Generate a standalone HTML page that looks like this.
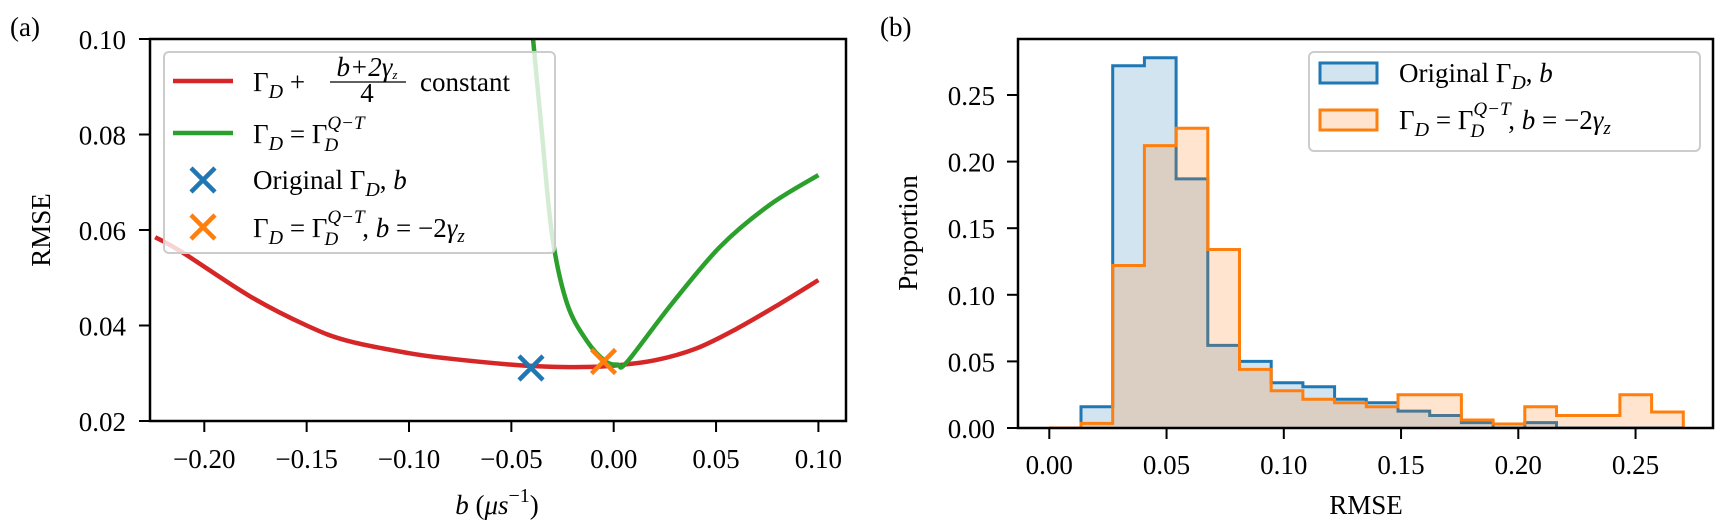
<!DOCTYPE html>
<html><head><meta charset="utf-8"><style>
html,body{margin:0;padding:0;background:#fff;}
svg{display:block;font-family:"Liberation Serif","DejaVu Serif",serif;}
.t{font-size:27px;fill:#000;}
.i{font-style:italic;}
</style></head><body>
<svg id="s" width="1725" height="530" viewBox="0 0 1725 530" xmlns="http://www.w3.org/2000/svg">
<defs><clipPath id="cl"><rect x="150" y="39" width="696" height="382"/></clipPath>
<clipPath id="cr"><rect x="1018" y="39" width="695" height="389"/></clipPath></defs>
<g id="left"></g>
<g id="right"></g>
<text class="t" x="10" y="36" font-size="28">(a)</text>
<text class="t" x="880" y="36" font-size="28">(b)</text>
<text class="t" transform="translate(50,230) rotate(-90)" text-anchor="middle" font-size="29">RMSE</text>
<text class="t" transform="translate(917,233) rotate(-90)" text-anchor="middle" font-size="29">Proportion</text>
<text class="t" x="497" y="514" text-anchor="middle" font-size="29"><tspan class="i">b</tspan> (<tspan class="i">μs</tspan><tspan font-size="20" dy="-12">−1</tspan><tspan dy="12">)</tspan></text>
<text class="t" x="1366" y="514" text-anchor="middle" font-size="29">RMSE</text>
</svg>
<script>
var NS="http://www.w3.org/2000/svg";
function el(p,tag,a,txt){var e=document.createElementNS(NS,tag);for(var k in a)e.setAttribute(k,a[k]);if(txt!=null)e.textContent=txt;p.appendChild(e);return e;}
var L=document.getElementById('left'),R=document.getElementById('right');
function X(b){return 204.3+(b+0.2)*2047;}
function Y(v){return 421-(v-0.02)*4775;}
function cr(pts){
 var d="M"+pts[0][0]+","+pts[0][1];
 for(var i=0;i<pts.length-1;i++){var p0=pts[Math.max(i-1,0)],p1=pts[i],p2=pts[i+1],p3=pts[Math.min(i+2,pts.length-1)];
 d+=" C"+(p1[0]+(p2[0]-p0[0])/6)+","+(p1[1]+(p2[1]-p0[1])/6)+" "+(p2[0]-(p3[0]-p1[0])/6)+","+(p2[1]-(p3[1]-p1[1])/6)+" "+p2[0]+","+p2[1];}
 return d;}
var red=[[-0.224,0.0585],[-0.211,0.0554],[-0.178,0.0462],[-0.15,0.0400],[-0.13,0.0368],[-0.1,0.0342],[-0.081,0.0331],[-0.05,0.0318],[-0.0326,0.0314],[-0.015,0.0313],[0,0.0316],[0.02,0.0327],[0.0404,0.0352],[0.06,0.0393],[0.081,0.0445],[0.1,0.0495]];
var green=[[-0.0405,0.104],[-0.0394,0.10],[-0.035,0.08],[-0.030,0.0586],[-0.0227,0.0445],[-0.013,0.0367],[-0.004,0.0325],[0.002,0.0318],[0.0064,0.0323],[0.0283,0.0445],[0.052,0.0565],[0.076,0.0652],[0.1,0.0715]];
var g=el(L,'g',{'clip-path':'url(#cl)'});
el(g,'path',{d:cr(red.map(function(p){return[X(p[0]),Y(p[1])]})),fill:'none',stroke:'#d62728','stroke-width':4.5});
el(g,'path',{d:cr(green.map(function(p){return[X(p[0]),Y(p[1])]})),fill:'none',stroke:'#2ca02c','stroke-width':4.5});
function xm(p,x,y,c){el(p,'path',{d:"M"+(x-12)+","+(y-12)+"L"+(x+12)+","+(y+12)+"M"+(x-12)+","+(y+12)+"L"+(x+12)+","+(y-12),stroke:c,'stroke-width':4.5,fill:'none'});}
xm(g,531,368,'#1f77b4');xm(g,603.5,361.5,'#ff7f0e');
el(L,'path',{d:"M150,39H846V421H150Z",fill:'none',stroke:'#000','stroke-width':2.5});
['0.02','0.04','0.06','0.08','0.10'].forEach(function(s){var y=Y(+s);el(L,'line',{x1:139,x2:150,y1:y,y2:y,stroke:'#000','stroke-width':2});el(L,'text',{'class':'t',x:126,y:y+10,'text-anchor':'end'},s);});
[-0.2,-0.15,-0.1,-0.05,0,0.05,0.1].forEach(function(b){var x=X(b);el(L,'line',{x1:x,x2:x,y1:421,y2:432,stroke:'#000','stroke-width':2});var s=(b<0?'−':'')+Math.abs(b).toFixed(2);el(L,'text',{'class':'t',x:x,y:468,'text-anchor':'middle'},s);});
el(L,'rect',{x:164,y:52,width:391,height:201,rx:5,fill:'rgba(255,255,255,0.8)',stroke:'#ccc','stroke-width':2});
el(L,'line',{x1:173,x2:233,y1:81,y2:81,stroke:'#d62728','stroke-width':4.5});
el(L,'line',{x1:173,x2:233,y1:133,y2:133,stroke:'#2ca02c','stroke-width':4.5});
xm(L,203,180,'#1f77b4');xm(L,203,227,'#ff7f0e');
var GD='Γ<tspan class="i" font-size="20" dy="7">D</tspan><tspan dy="-7">';
var GQ='Γ<tspan class="i" font-size="19" dy="-14">Q−T</tspan><tspan class="i" font-size="19" dx="-40" dy="22">D</tspan>';
var lg=el(L,'g',{});
lg.innerHTML='<text class="t" x="253" y="91">'+GD+' +</tspan></text>'+
'<text class="t i" x="367" y="76" font-size="19" text-anchor="middle">b+2γ<tspan font-size="13" dy="3">z</tspan></text><line x1="330" x2="406" y1="82" y2="82" stroke="#000" stroke-width="1.3"/><text class="t" x="367" y="102" font-size="19" text-anchor="middle">4</text>'+
'<text class="t" x="420" y="91">constant</text>'+
'<text class="t" x="253" y="143">'+GD+' = </tspan>'+GQ+'</text>'+
'<text class="t" x="253" y="189">Original '+GD+', </tspan><tspan class="i">b</tspan></text>'+
'<text class="t" x="253" y="237">'+GD+' = </tspan>'+GQ+'<tspan dx="24" dy="-8">, </tspan><tspan class="i">b</tspan><tspan> = −2</tspan><tspan class="i">γ</tspan><tspan class="i" font-size="19" dy="5">z</tspan></text>';
function HX(k){return 1049.3+31.7*k;}
function HY(v){return 428-v*1332;}
var blue=[0,0.016,0.272,0.278,0.187,0.062,0.050,0.034,0.031,0.0216,0.019,0.0127,0.0094,0.004,0,0.004,0,0,0,0];
var ora=[0,0.0035,0.122,0.212,0.225,0.134,0.044,0.028,0.0216,0.019,0.016,0.025,0.025,0.006,0.003,0.016,0.0094,0.0094,0.025,0.012];
function step(h){var d="M"+HX(0)+","+HY(0);for(var k=0;k<h.length;k++){d+="L"+HX(k)+","+HY(h[k])+"L"+HX(k+1)+","+HY(h[k]);}d+="L"+HX(h.length)+","+HY(0);return d;}
var gr=el(R,'g',{'clip-path':'url(#cr)'});
el(gr,'path',{d:step(blue)+"Z",fill:'rgba(31,119,180,0.2)',stroke:'none'});
el(gr,'path',{d:step(blue),fill:'none',stroke:'#1f77b4','stroke-width':3});
el(gr,'path',{d:step(ora)+"Z",fill:'rgba(255,127,14,0.2)',stroke:'none'});
el(gr,'path',{d:step(ora),fill:'none',stroke:'#ff7f0e','stroke-width':3});
el(R,'path',{d:"M1018,39H1713V428H1018Z",fill:'none',stroke:'#000','stroke-width':2.5});
['0.00','0.05','0.10','0.15','0.20','0.25'].forEach(function(s){var y=HY(+s);el(R,'line',{x1:1007,x2:1018,y1:y,y2:y,stroke:'#000','stroke-width':2});el(R,'text',{'class':'t',x:995,y:y+10,'text-anchor':'end'},s);});
['0.00','0.05','0.10','0.15','0.20','0.25'].forEach(function(s){var x=1049.3+(+s)*2345;el(R,'line',{x1:x,x2:x,y1:428,y2:439,stroke:'#000','stroke-width':2});el(R,'text',{'class':'t',x:x,y:474,'text-anchor':'middle'},s);});
el(R,'rect',{x:1309,y:52,width:391,height:99,rx:5,fill:'rgba(255,255,255,0.8)',stroke:'#ccc','stroke-width':2});
el(R,'rect',{x:1320,y:63,width:57,height:20,fill:'rgba(31,119,180,0.2)',stroke:'#1f77b4','stroke-width':3});
el(R,'rect',{x:1320,y:110,width:57,height:20,fill:'rgba(255,127,14,0.2)',stroke:'#ff7f0e','stroke-width':3});
var rg=el(R,'g',{});
rg.innerHTML='<text class="t" x="1399" y="82">Original '+GD+', </tspan><tspan class="i">b</tspan></text>'+
'<text class="t" x="1399" y="129">'+GD+' = </tspan>'+GQ+'<tspan dx="24" dy="-8">, </tspan><tspan class="i">b</tspan><tspan> = −2</tspan><tspan class="i">γ</tspan><tspan class="i" font-size="19" dy="5">z</tspan></text>';
</script>
</body></html>
